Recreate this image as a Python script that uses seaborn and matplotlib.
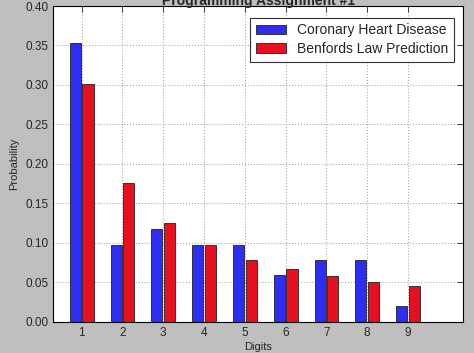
import numpy as np
import pandas as pd
import matplotlib
matplotlib.use('Agg')
import matplotlib.pyplot as plt
import seaborn as sns

digits = [1, 2, 3, 4, 5, 6, 7, 8, 9]
chd_probs = [0.353, 0.098, 0.118, 0.098, 0.098, 0.059, 0.078, 0.078, 0.020]
benford_probs = [0.301, 0.176, 0.125, 0.097, 0.079, 0.067, 0.058, 0.051, 0.046]
series_names = ['Coronary Heart Disease', 'Benfords Law Prediction']
y_ticks = [0.00, 0.05, 0.10, 0.15, 0.20, 0.25, 0.30, 0.35, 0.40]

df = pd.DataFrame({
    'digit': digits * 2,
    'prob': chd_probs + benford_probs,
    'source': [series_names[0]] * len(digits) + [series_names[1]] * len(digits),
})

sns.set_style('white')
plt.rcParams['font.family'] = ['Liberation Sans', 'DejaVu Sans']

fig = plt.figure(figsize=(4.74, 3.53), dpi=100, facecolor='#bfbfbf')
ax = fig.add_axes([0.112, 0.088, 0.865, 0.895])
ax.set_facecolor('white')

sns.barplot(data=df, x='digit', y='prob', hue='source',
            palette=['#2e2ef2', '#e8101e'], saturation=1, width=0.62, gap=0.12,
            edgecolor='#222222', linewidth=0.6, ax=ax)

ax.set_xlim(-0.7, 9.35)
ax.set_ylim(0, 0.40)
ax.set_yticks(y_ticks)
ax.set_yticklabels([f'{t:.2f}' for t in y_ticks])
ax.tick_params(labelsize=8.5, direction='in', top=True, right=True, length=4, width=0.6)
ax.grid(True, linestyle=':', color='#aaaaaa', linewidth=0.8)
ax.set_axisbelow(True)
for s in ax.spines.values():
    s.set_visible(True)
    s.set_color('black')
    s.set_linewidth(0.8)

ax.set_xlabel('Digits', fontsize=8, labelpad=2)
ax.set_ylabel('Probability', fontsize=8, labelpad=4)
ax.set_title('Programming Assignment #1', fontsize=10, fontweight='bold', pad=0.5)

leg = ax.legend(loc='upper right', fontsize=10, frameon=True, fancybox=False,
                borderpad=0.4, handlelength=2.2, labelspacing=0.35,
                bbox_to_anchor=(0.995, 0.985))
leg.get_frame().set_edgecolor('black')
leg.get_frame().set_linewidth(0.8)

fig.savefig('out.png', dpi=100, facecolor=fig.get_facecolor())
